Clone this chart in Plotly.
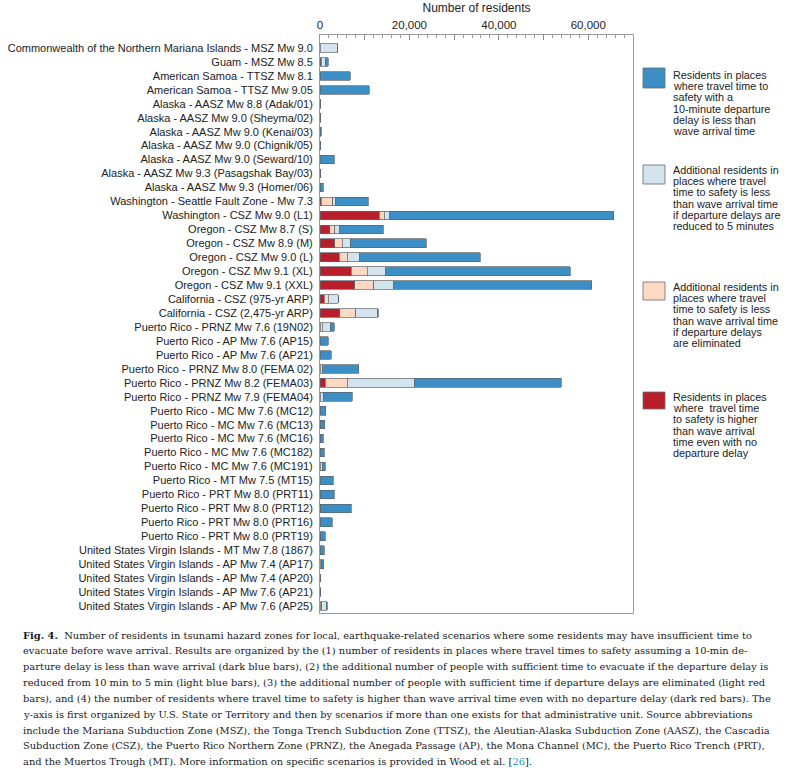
import plotly.graph_objects as go

categories = [
    "Commonwealth of the Northern Mariana Islands - MSZ Mw 9.0",
    "Guam - MSZ Mw 8.5",
    "American Samoa - TTSZ Mw 8.1",
    "American Samoa - TTSZ Mw 9.05",
    "Alaska - AASZ Mw 8.8 (Adak/01)",
    "Alaska - AASZ Mw 9.0 (Sheyma/02)",
    "Alaska - AASZ Mw 9.0 (Kenai/03)",
    "Alaska - AASZ Mw 9.0 (Chignik/05)",
    "Alaska - AASZ Mw 9.0 (Seward/10)",
    "Alaska - AASZ Mw 9.3 (Pasagshak Bay/03)",
    "Alaska - AASZ Mw 9.3 (Homer/06)",
    "Washington - Seattle Fault Zone - Mw 7.3",
    "Washington - CSZ Mw 9.0 (L1)",
    "Oregon - CSZ Mw 8.7 (S)",
    "Oregon - CSZ Mw 8.9 (M)",
    "Oregon - CSZ Mw 9.0 (L)",
    "Oregon - CSZ Mw 9.1 (XL)",
    "Oregon - CSZ Mw 9.1 (XXL)",
    "California - CSZ (975-yr ARP)",
    "California - CSZ (2,475-yr ARP)",
    "Puerto Rico - PRNZ Mw 7.6 (19N02)",
    "Puerto Rico - AP Mw 7.6 (AP15)",
    "Puerto Rico - AP Mw 7.6 (AP21)",
    "Puerto Rico - PRNZ Mw 8.0 (FEMA 02)",
    "Puerto Rico - PRNZ Mw 8.2 (FEMA03)",
    "Puerto Rico - PRNZ Mw 7.9 (FEMA04)",
    "Puerto Rico - MC Mw 7.6 (MC12)",
    "Puerto Rico - MC Mw 7.6 (MC13)",
    "Puerto Rico - MC Mw 7.6 (MC16)",
    "Puerto Rico - MC Mw 7.6 (MC182)",
    "Puerto Rico - MC Mw 7.6 (MC191)",
    "Puerto Rico - MT Mw 7.5 (MT15)",
    "Puerto Rico - PRT Mw 8.0 (PRT11)",
    "Puerto Rico - PRT Mw 8.0 (PRT12)",
    "Puerto Rico - PRT Mw 8.0 (PRT16)",
    "Puerto Rico - PRT Mw 8.0 (PRT19)",
    "United States Virgin Islands - MT Mw 7.8 (1867)",
    "United States Virgin Islands - AP Mw 7.4 (AP17)",
    "United States Virgin Islands - AP Mw 7.4 (AP20)",
    "United States Virgin Islands - AP Mw 7.6 (AP21)",
    "United States Virgin Islands - AP Mw 7.6 (AP25)",
]

# Residents where travel time > wave arrival even with no delay (dark red)
no_delay_insufficient = [0, 200, 0, 0, 0, 0, 0, 0, 0, 40, 0, 300, 13300, 2150, 3350, 4300, 7000, 7800,
                         950, 4450, 0, 0, 0, 0, 1200, 0, 0, 0, 0, 0, 0, 0, 0, 0, 0, 0, 0, 0, 0, 0, 0]
# Additional residents if departure delays eliminated (light red)
delay_eliminated = [0, 100, 0, 0, 0, 0, 0, 0, 0, 0, 0, 2600, 1080, 1190, 1570, 1790, 3580, 4250,
                    900, 3580, 450, 0, 0, 0, 4840, 0, 0, 0, 0, 0, 0, 0, 0, 0, 0, 0, 0, 300, 0, 0, 370]
# Additional residents if delay reduced to 5 min (light blue)
delay_5min = [4000, 900, 0, 0, 0, 0, 0, 0, 0, 0, 0, 600, 1260, 1120, 1790, 2830, 4170, 4470,
              2240, 4770, 1790, 0, 0, 600, 15050, 670, 0, 0, 0, 0, 650, 0, 0, 220, 0, 150, 0, 100, 0, 0, 1040]
# Residents with sufficient time with 10-min delay (dark blue)
delay_10min = [0, 650, 6780, 11000, 200, 150, 250, 200, 3150, 0, 750, 7300, 50060, 9690, 17060, 26890,
               41270, 44250, 0, 220, 890, 1860, 2530, 8040, 32850, 6560, 1340, 1040, 750, 900, 520,
               2980, 3200, 6780, 2760, 970, 900, 400, 80, 150, 220]

x_tick_vals = [0, 10000, 20000, 30000, 40000, 50000, 60000, 70000]
x_tick_text = ["0", "", "20,000", "", "40,000", "", "60,000", ""]

legend_lines = [
    ["Residents in places", "where travel time to", "safety with a", "10-minute departure",
     "delay is less than", "wave arrival time"],
    ["Additional residents in", "places where travel", "time to safety is less",
     "than wave arrival time", "if departure delays are", "reduced to 5 minutes"],
    ["Additional residents in", "places where travel", "time to safety is less",
     "than wave arrival time", "if departure delays", "are eliminated"],
    ["Residents in places", "where  travel time", "to safety is higher", "than wave arrival",
     "time even with no", "departure delay"],
]

caption_lines = [
    "<b>Fig. 4.</b>  Number of residents in tsunami hazard zones for local, earthquake-related scenarios where some residents may have insufficient time to",
    "evacuate before wave arrival. Results are organized by the (1) number of residents in places where travel times to safety assuming a 10-min de-",
    "parture delay is less than wave arrival (dark blue bars), (2) the additional number of people with sufficient time to evacuate if the departure delay is",
    "reduced from 10 min to 5 min (light blue bars), (3) the additional number of people with sufficient time if departure delays are eliminated (light red",
    "bars), and (4) the number of residents where travel time to safety is higher than wave arrival time even with no departure delay (dark red bars). The",
    "y-axis is first organized by U.S. State or Territory and then by scenarios if more than one exists for that administrative unit. Source abbreviations",
    "include the Mariana Subduction Zone (MSZ), the Tonga Trench Subduction Zone (TTSZ), the Aleutian-Alaska Subduction Zone (AASZ), the Cascadia",
    "Subduction Zone (CSZ), the Puerto Rico Northern Zone (PRNZ), the Anegada Passage (AP), the Mona Channel (MC), the Puerto Rico Trench (PRT),",
    "and the Muertos Trough (MT). More information on specific scenarios is provided in Wood et al. [<span style='color:#2a9ad4'>26</span>].",
]

DARK_RED = "#b81f2b"
PEACH = "#fdd9c4"
LIGHT_BLUE = "#d3e4ef"
DARK_BLUE = "#3b8fc5"

series = [
    (no_delay_insufficient, DARK_RED),
    (delay_eliminated, PEACH),
    (delay_5min, LIGHT_BLUE),
    (delay_10min, DARK_BLUE),
]
legend_colors = [DARK_BLUE, LIGHT_BLUE, PEACH, DARK_RED]

W, H = 792, 773
L, R, T, B = 320, 633, 35, 613

fig = go.Figure()
for vals, col in series:
    fig.add_trace(go.Bar(
        y=categories, x=vals, orientation="h",
        marker=dict(color=col, line=dict(color="#5f6468", width=0.7)),
        width=0.62, showlegend=False, hoverinfo="x+y",
    ))

def px_x(p):
    return (p - L) / (R - L)

def px_y(p):
    return (B - p) / (B - T)

annotations = []
shapes = []

# legend boxes and text
box_tops = [68, 165, 282, 392]
box_bots = [88, 184, 300, 409]
text_first = [75, 170, 287, 397]
for i in range(4):
    shapes.append(dict(type="rect", xref="paper", yref="paper",
                       x0=px_x(643), x1=px_x(665), y0=px_y(box_bots[i]), y1=px_y(box_tops[i]),
                       fillcolor=legend_colors[i], line=dict(color="#6a6a6a", width=0.8)))
    for j, ln in enumerate(legend_lines[i]):
        annotations.append(dict(xref="paper", yref="paper", x=px_x(671), y=px_y(text_first[i] + j * 11.2),
                                xanchor="left", yanchor="middle", text=ln, showarrow=False,
                                font=dict(size=10.8, color="#222", family="Liberation Sans, Arial")))

# caption
for k, ln in enumerate(caption_lines):
    annotations.append(dict(xref="paper", yref="paper", x=px_x(21), y=px_y(635 + k * 15.85),
                            xanchor="left", yanchor="middle", text=ln, showarrow=False,
                            font=dict(size=9.9, color="#1a1a1a", family="DejaVu Serif")))

fig.update_layout(
    width=W, height=H,
    margin=dict(l=L, r=W - R, t=T, b=H - B, pad=0, autoexpand=False),
    barmode="stack", bargap=0.38,
    plot_bgcolor="white", paper_bgcolor="white",
    font=dict(family="Liberation Sans, Arial", size=11, color="#222"),
    xaxis=dict(
        side="top", range=[0, 70000], tickvals=x_tick_vals, ticktext=x_tick_text,
        ticks="inside", ticklen=5, tickcolor="#888", tickwidth=1,
        minor=dict(dtick=2000, ticks="inside", ticklen=3, tickcolor="#999"),
        showline=True, linecolor="#999", linewidth=1, mirror=True,
        showgrid=False, zeroline=False, automargin=False,
        tickfont=dict(size=11.5, color="#222"),
        title=dict(text="Number of residents", font=dict(size=12, color="#222"), standoff=4),
    ),
    yaxis=dict(
        categoryorder="array", categoryarray=categories,
        range=[40.5, -0.93], autorange=False, automargin=False,
        showline=True, linecolor="#999", linewidth=1, mirror=True,
        showgrid=False, zeroline=False, ticks="", ticklabelstandoff=4,
        tickfont=dict(size=11, color="#222"),
    ),
    annotations=annotations, shapes=shapes,
)

fig.write_html("out.html", config={"displayModeBar": False},
               post_script="document.body.style.margin='0px';document.body.style.padding='0px';")
